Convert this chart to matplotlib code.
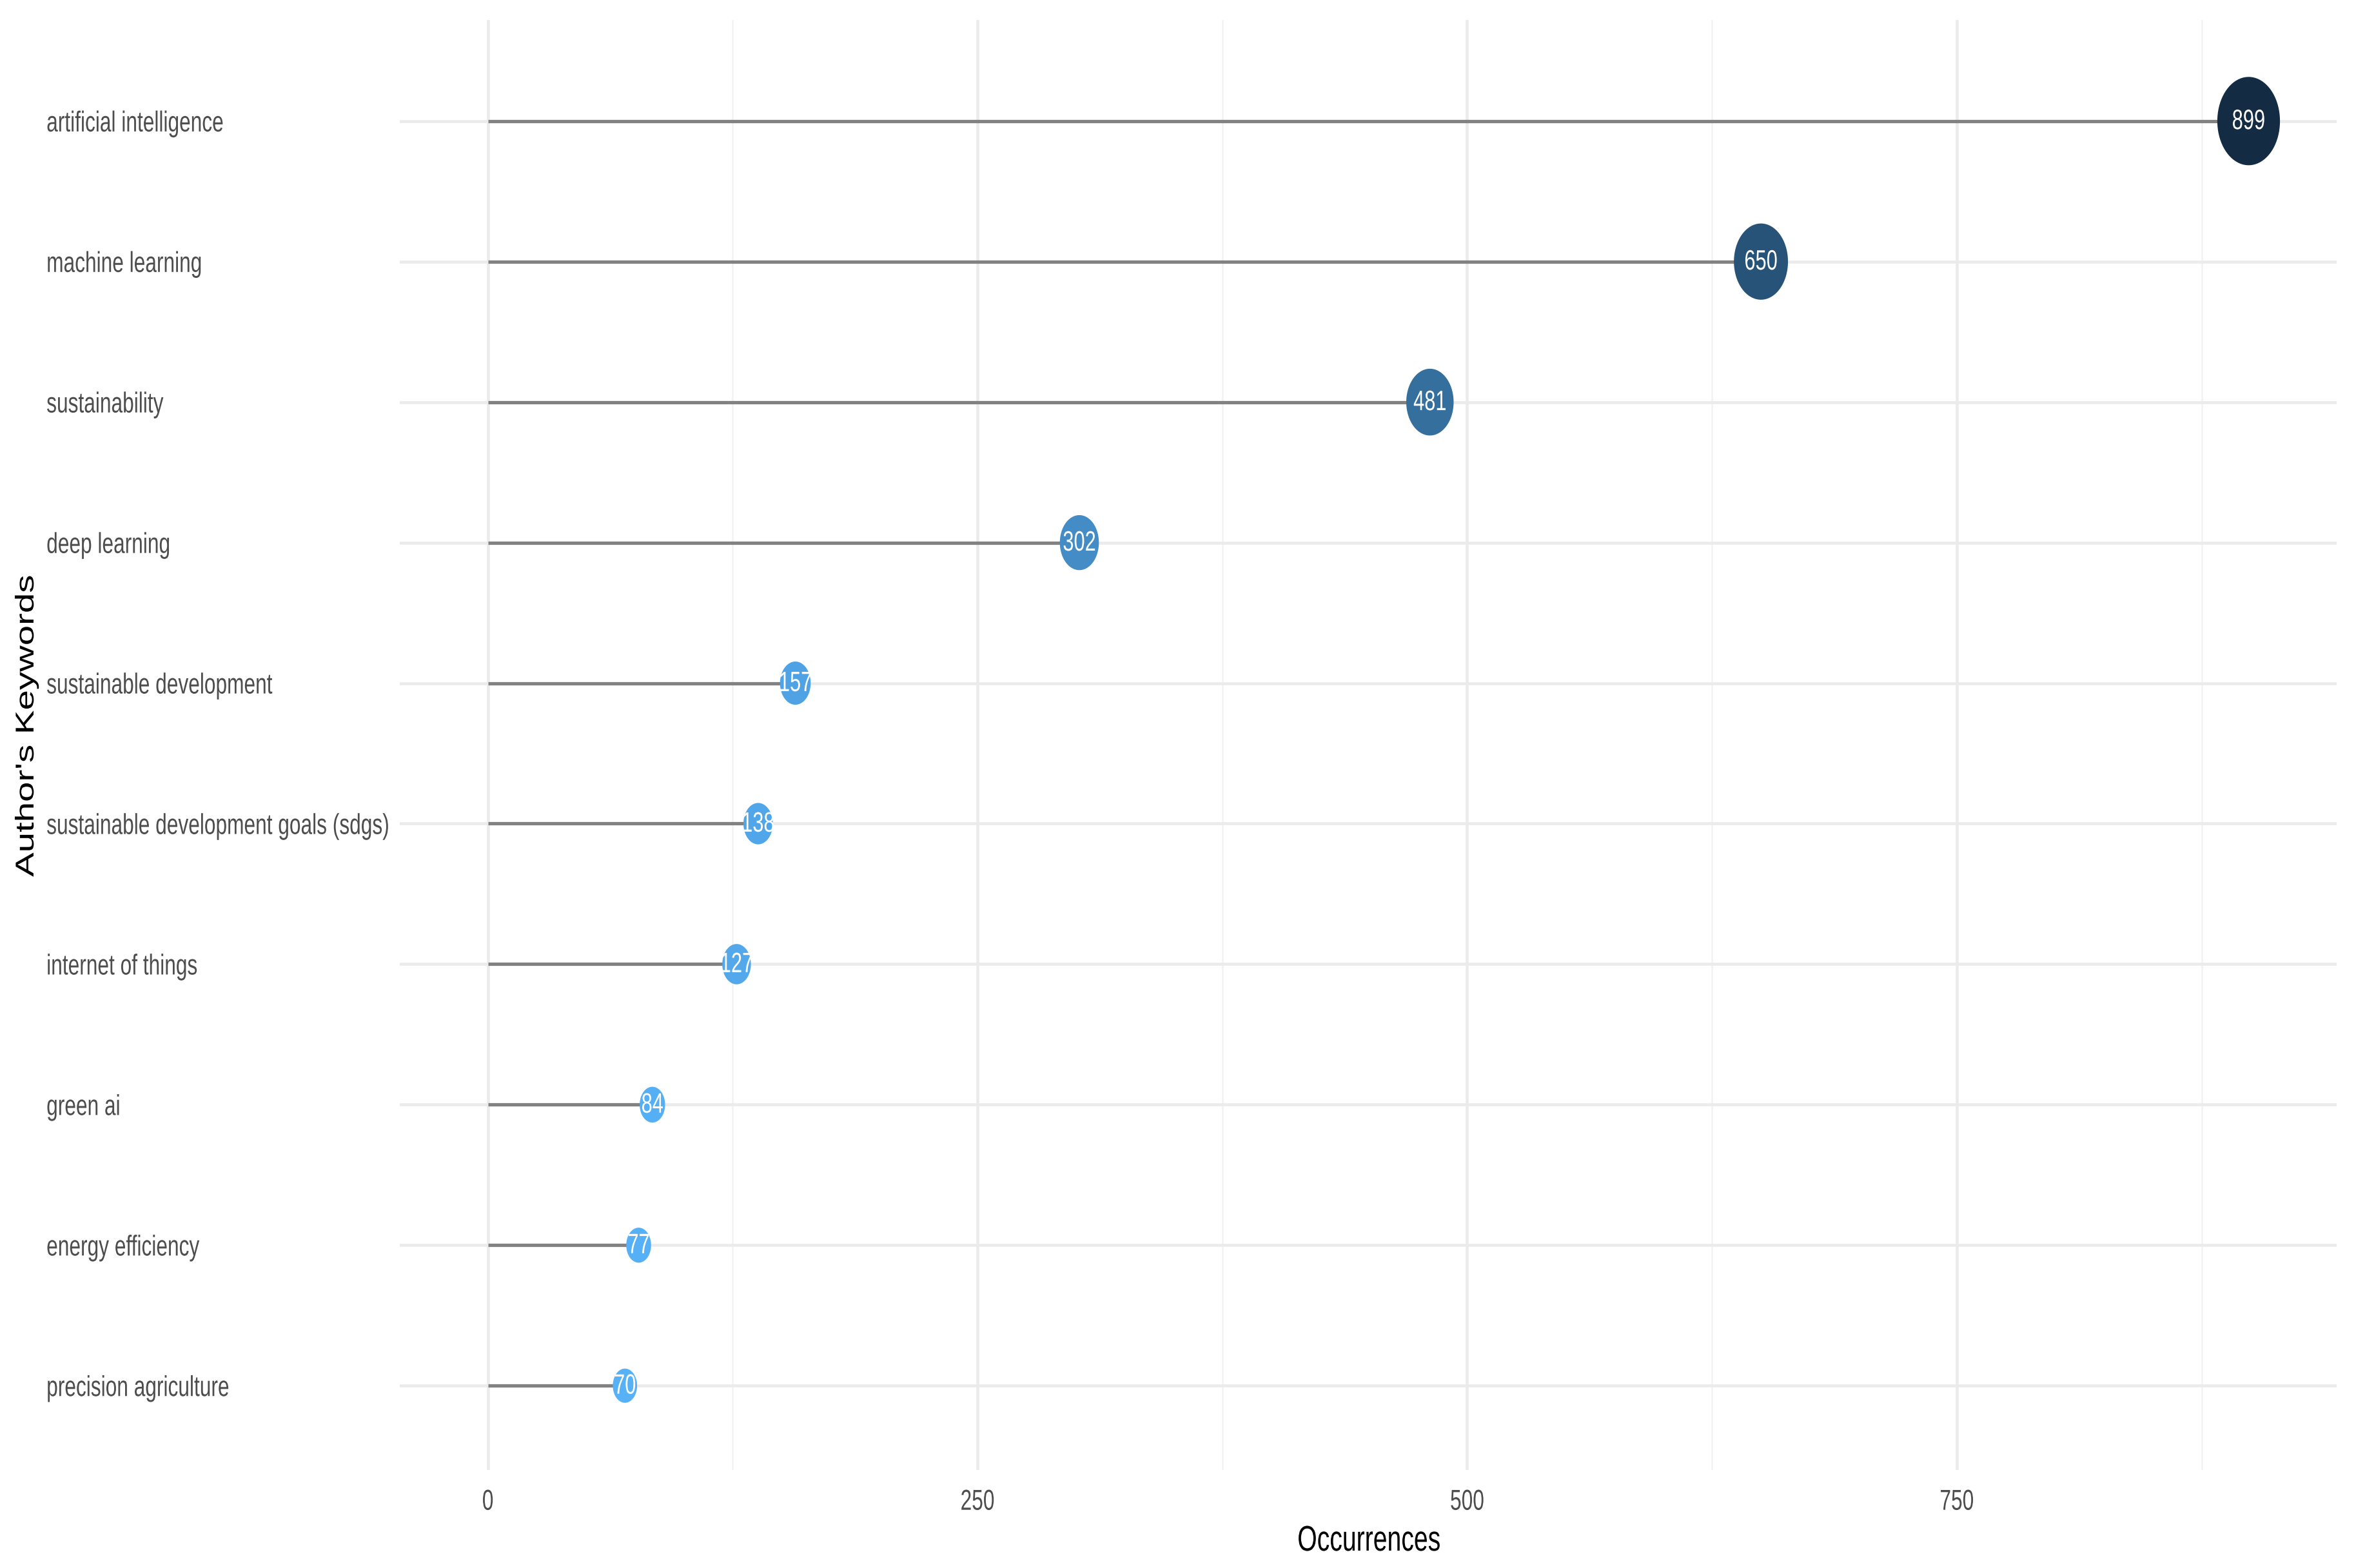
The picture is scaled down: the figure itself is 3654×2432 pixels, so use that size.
import numpy as np
import matplotlib
matplotlib.use("Agg")
import matplotlib.pyplot as plt
from matplotlib.path import Path
from matplotlib.colors import LinearSegmentedColormap, Normalize
from matplotlib.patheffects import AbstractPathEffect
from matplotlib.transforms import Affine2D

keywords = ["artificial intelligence", "machine learning", "sustainability",
            "deep learning", "sustainable development",
            "sustainable development goals (sdgs)", "internet of things",
            "green ai", "energy efficiency", "precision agriculture"]
occurrences = [899, 650, 481, 302, 157, 138, 127, 84, 77, 70]

STRETCH = 1.41  # the reference picture is stretched vertically


class Stretch(AbstractPathEffect):
    """Scale glyph outlines in text-path space (sx along text, sy across)."""

    def __init__(self, sx=1.0, sy=1.0):
        super().__init__()
        self.sx, self.sy = sx, sy

    def draw_path(self, renderer, gc, tpath, affine, rgbFace=None):
        ext = tpath.get_extents()
        cx = (ext.x0 + ext.x1) / 2
        cy = 35.0  # middle of the line box in text-path units
        pre = (Affine2D().translate(-cx, -cy).scale(self.sx, self.sy)
               .translate(cx, cy))
        renderer.draw_path(gc, tpath, pre + affine, rgbFace)


tall = [Stretch(1, STRETCH)]
long_ = [Stretch(STRETCH, 1)]

plt.rcParams["font.family"] = ["Liberation Sans", "DejaVu Sans"]

fig = plt.figure(figsize=(3654 / 300, 2432 / 300), dpi=300)
ax = fig.add_axes([0.1697, 0.0625, 0.9918 - 0.1697, 0.9873 - 0.0625])

y = np.arange(len(keywords))
vals = np.array(occurrences)

cmap = LinearSegmentedColormap.from_list("gg", ["#56B1F7", "#132B43"])
norm = Normalize(vals.min(), vals.max())

t = np.linspace(0, 2 * np.pi, 80)
ellipse = Path(np.column_stack([np.cos(t), STRETCH * np.sin(t)]), closed=True)

ax.hlines(y, 0, vals, color="#828282", lw=1.25, zorder=2)
ax.scatter(vals, y, s=84.5 + 1.109 * vals, c=vals, cmap=cmap, norm=norm,
           marker=ellipse, linewidths=0, zorder=3)
for v, yy in zip(vals, y):
    ax.text(v, yy, str(v), color="white", fontsize=7.4, ha="center",
            va="center", zorder=4, path_effects=tall)

ax.set_xlim(-44.95, 943.95)
ax.set_ylim(len(keywords) - 1 + 0.6, -0.72)

ax.set_xticks([0, 250, 500, 750])
ax.set_xticks([125, 375, 625, 875], minor=True)
ax.set_yticks(y)
ax.set_yticklabels(keywords, ha="left")
ax.tick_params(axis="y", length=0, pad=131.5, labelsize=7.6, labelcolor="#4d4d4d")
ax.tick_params(axis="x", which="both", length=0, pad=8.2, labelsize=7.6,
               labelcolor="#4d4d4d")
for lab in ax.get_yticklabels() + ax.get_xticklabels():
    lab.set_path_effects(tall)

ax.grid(which="major", color="#ebebeb", lw=1.1, zorder=0)
ax.grid(which="minor", axis="x", color="#f2f2f2", lw=0.6, zorder=0)
ax.set_axisbelow(True)
for s in ax.spines.values():
    s.set_visible(False)

fig.text(0.581, 0.0175, "Occurrences", ha="center", va="center",
         fontsize=9.4, color="black", path_effects=tall)
fig.text(0.0112, 0.537, "Author's Keywords", rotation=90, ha="center",
         va="center", fontsize=9.6, color="black", path_effects=long_)

fig.savefig("out.png", dpi=300, facecolor="white")
